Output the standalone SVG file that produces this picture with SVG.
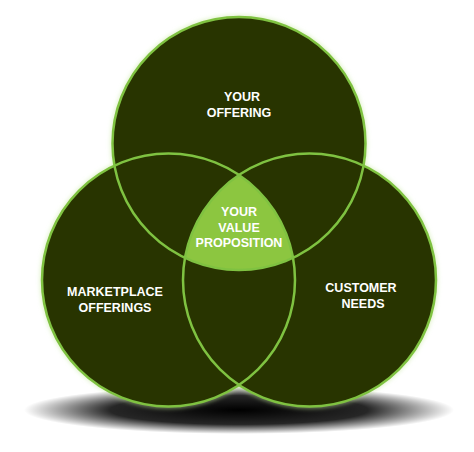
<svg xmlns="http://www.w3.org/2000/svg" width="474" height="452" viewBox="0 0 474 452">
  <defs>
    <radialGradient id="shadow" cx="0.5" cy="0.5" r="0.5">
      <stop offset="0" stop-color="#000" stop-opacity="1"/>
      <stop offset="0.6" stop-color="#000" stop-opacity="0.85"/>
      <stop offset="1" stop-color="#000" stop-opacity="0"/>
    </radialGradient>
    <filter id="glow" x="-10%" y="-10%" width="120%" height="120%">
      <feGaussianBlur stdDeviation="2"/>
    </filter>
  </defs>
  <style>
    .fill { fill: #283400; }
    .ring { fill: none; stroke: #7fc241; stroke-width: 2.5; }
    .halo { fill: none; stroke: #c8e8a0; stroke-width: 4; opacity: 0.6; }
    .lbl { font-family: "Liberation Sans", Arial, sans-serif; font-weight: 700; font-size: 12.5px; fill: #ffffff; text-anchor: middle; }
  </style>
  <rect width="474" height="452" fill="#ffffff"/>
  <ellipse cx="239" cy="410" rx="215" ry="24" fill="url(#shadow)"/>
  <g id="halos" filter="url(#glow)">
    <circle class="halo" cx="239" cy="143.5" r="126.5"/>
    <circle class="halo" cx="168.5" cy="280" r="126.5"/>
    <circle class="halo" cx="309.5" cy="280" r="126.5"/>
  </g>
  <g id="fills">
    <circle class="fill" cx="239" cy="143.5" r="126.5"/>
    <circle class="fill" cx="168.5" cy="280" r="126.5"/>
    <circle class="fill" cx="309.5" cy="280" r="126.5"/>
  </g>
  <g id="value-proposition">
    <path d="M239,175 A126.5,126.5 0 0 1 293.1,257.9 A126.5,126.5 0 0 1 184.9,257.9 A126.5,126.5 0 0 1 239,175 Z" fill="#8cc640"/>
    <text class="lbl" x="239" y="216">YOUR</text>
    <text class="lbl" x="239" y="232">VALUE</text>
    <text class="lbl" x="239" y="247">PROPOSITION</text>
  </g>
  <g id="your-offering">
    <circle class="ring" cx="239" cy="143.5" r="126.5"/>
    <text class="lbl" x="242" y="101">YOUR</text>
    <text class="lbl" x="239" y="117">OFFERING</text>
  </g>
  <g id="marketplace-offerings">
    <circle class="ring" cx="168.5" cy="280" r="126.5"/>
    <text class="lbl" x="115" y="296">MARKETPLACE</text>
    <text class="lbl" x="115" y="312">OFFERINGS</text>
  </g>
  <g id="customer-needs">
    <circle class="ring" cx="309.5" cy="280" r="126.5"/>
    <text class="lbl" x="361" y="292">CUSTOMER</text>
    <text class="lbl" x="363" y="308">NEEDS</text>
  </g>
  <g id="connectors"/>
</svg>
